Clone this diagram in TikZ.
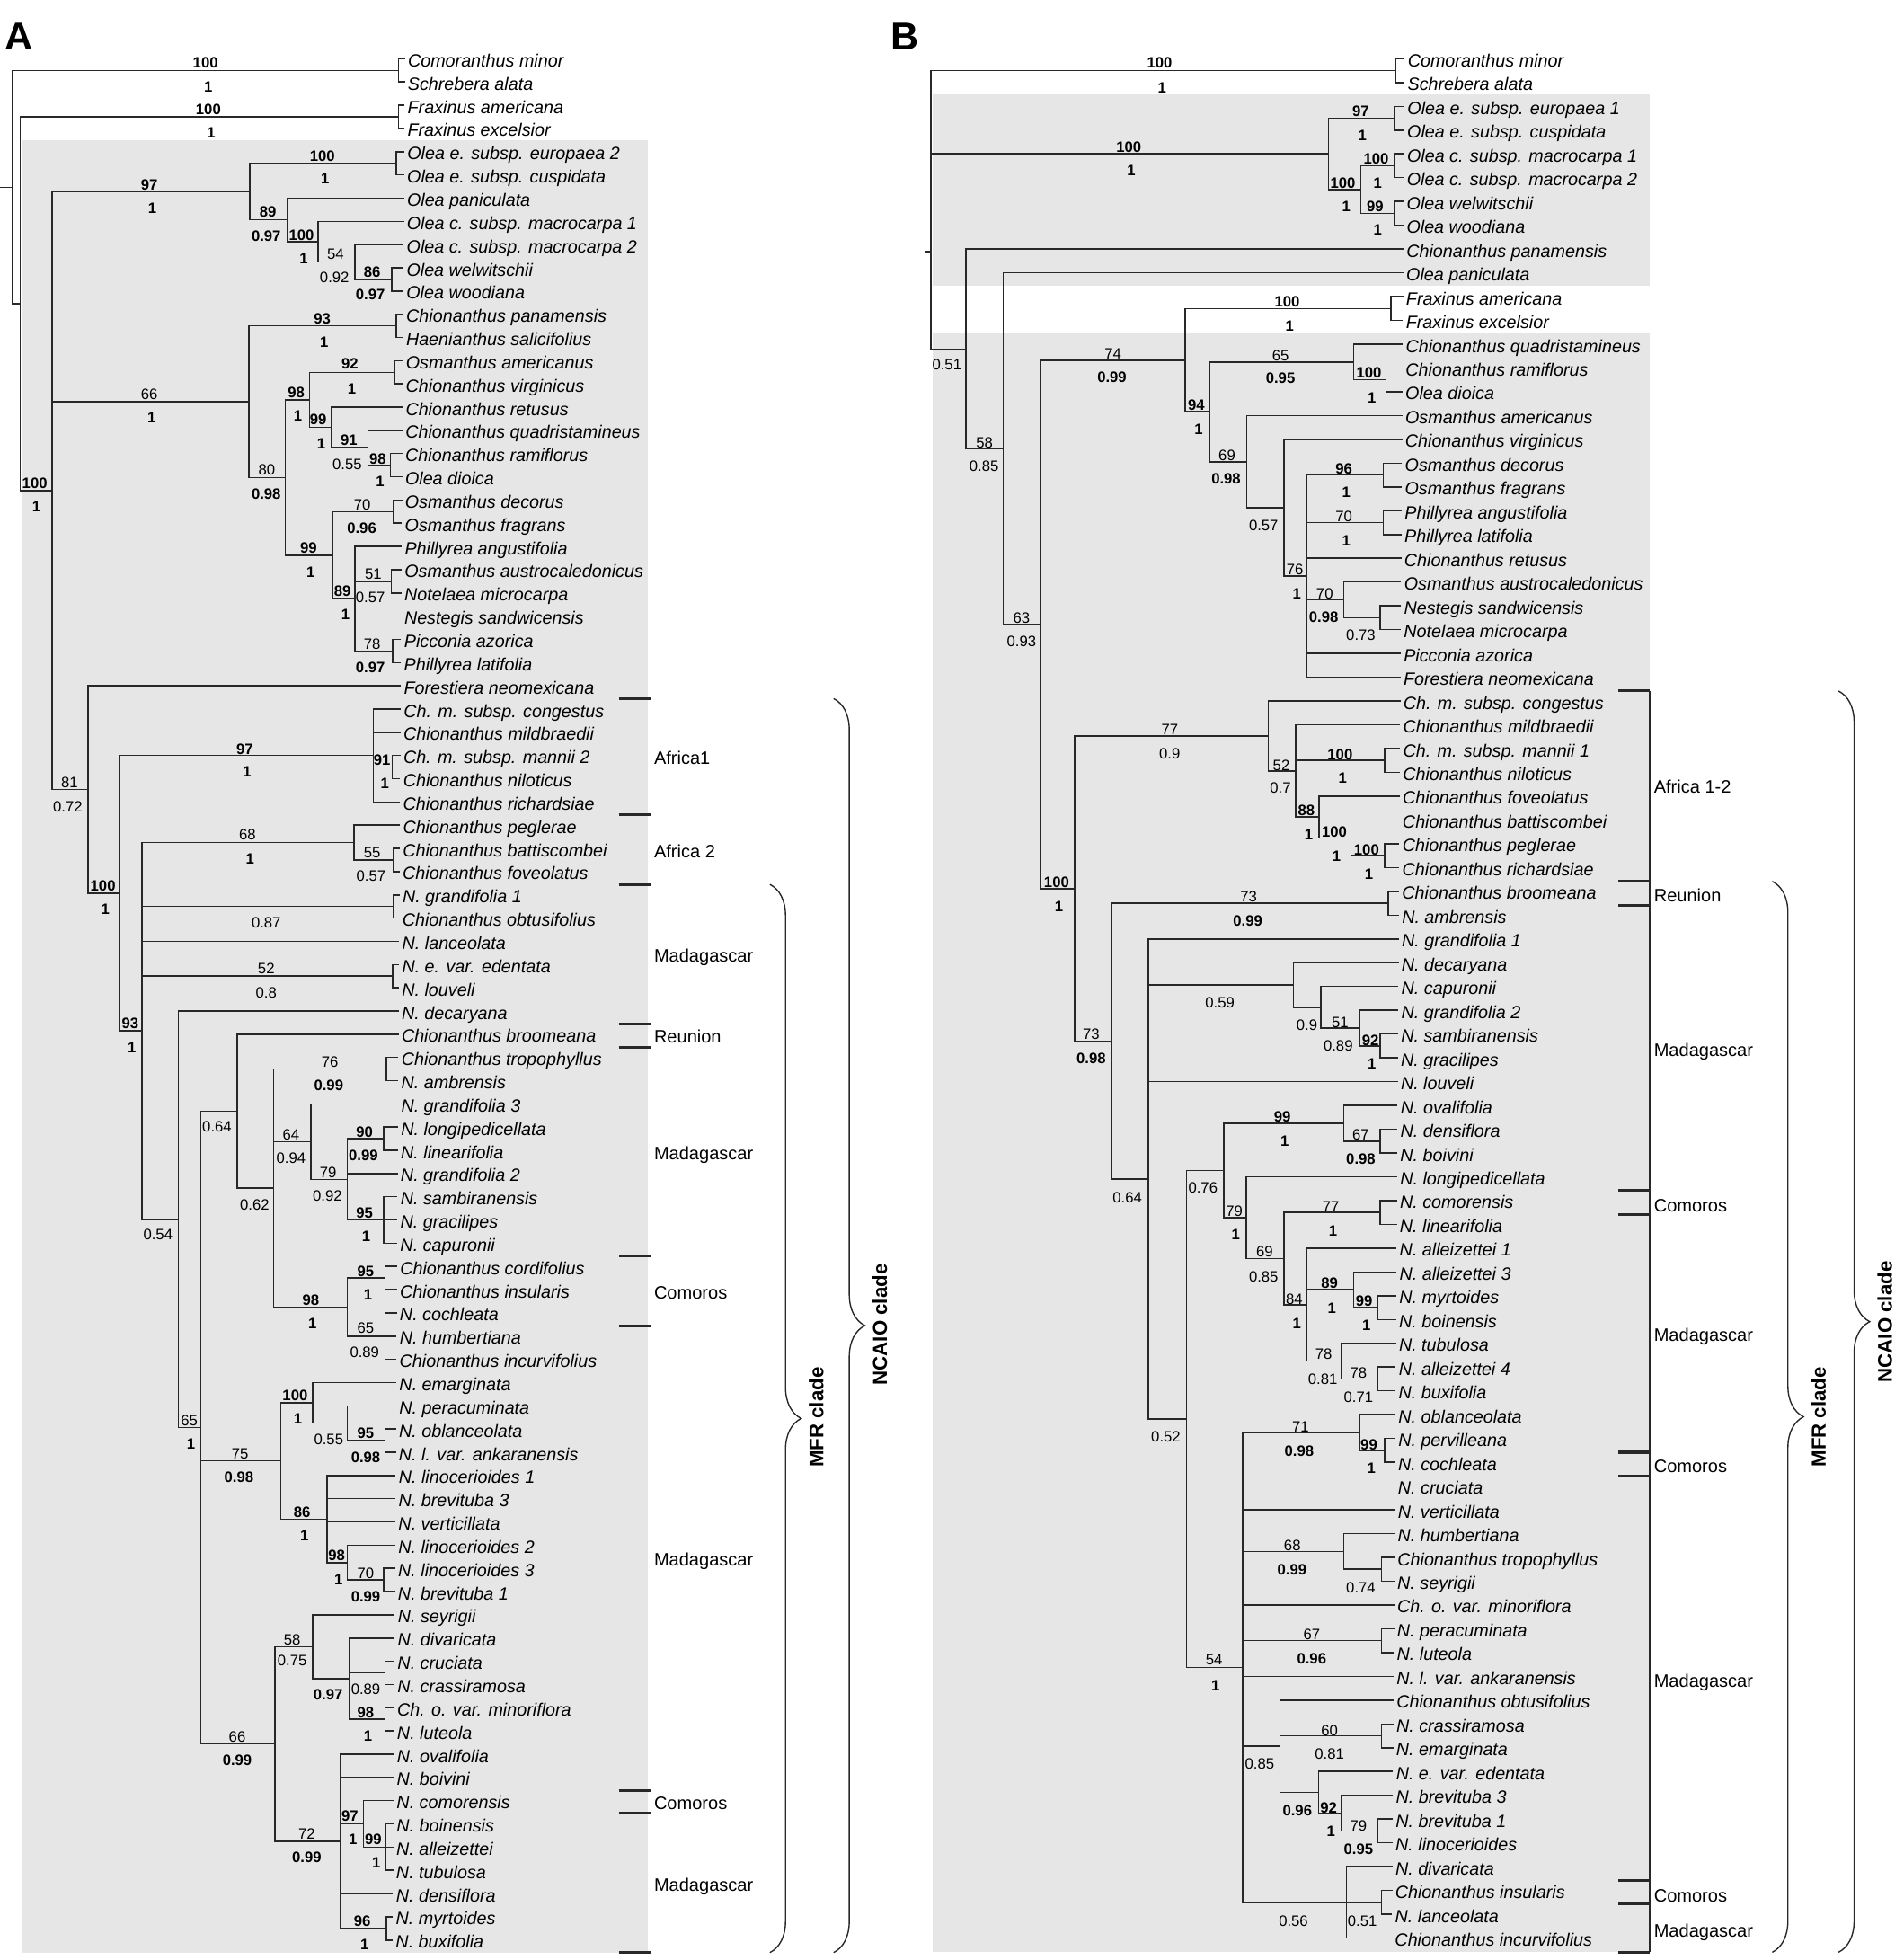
\documentclass[tikz,border=0pt]{standalone}
\usepackage{fontspec}
\setmainfont{Liberation Sans}
\usetikzlibrary{decorations.pathreplacing}
\definecolor{cladegray}{RGB}{230,230,230}
\definecolor{treeline}{RGB}{40,40,40}

\newcounter{valcount}
\newcommand\bv[3]{\stepcounter{valcount}\node[valb] (v\arabic{valcount}) at (#1,#2) {#3};}
\newcommand\rv[3]{\stepcounter{valcount}\node[valr] (v\arabic{valcount}) at (#1,#2) {#3};}
\newcommand\kids[2]{\foreach \kid in {#2} {\draw[branch] (#1) |- (\kid);}}

\begin{document}
\begin{tikzpicture}[x=0.5pt, y=-0.5pt,
  branch/.style={draw=treeline, line width=0.55pt},
  leaf/.style={anchor=west, inner xsep=1pt, inner ysep=0pt, text height=0.7em, text depth=0.05em,
               font=\fontsize{7.1}{8}\selectfont\itshape},
  valb/.style={inner sep=0pt, text height=0.72em, text depth=0pt, font=\fontsize{6}{7}\selectfont\bfseries},
  valr/.style={inner sep=0pt, text height=0.72em, text depth=0pt, font=\fontsize{6}{7}\selectfont},
  region/.style={anchor=west, inner sep=0pt, text height=0.72em, text depth=0pt, font=\fontsize{7.2}{8}\selectfont},
  regionline/.style={draw=treeline, line width=0.5pt},
  regiontick/.style={draw=treeline, line width=1.1pt},
  cladebrace/.style={draw=treeline, line width=0.5pt, decorate, decoration={brace, amplitude=12.5pt}},
  cladename/.style={rotate=90, inner sep=0pt, font=\fontsize{8}{9}\selectfont\bfseries},
  panel/.style={inner sep=0pt, font=\fontsize{15.5}{17}\selectfont\bfseries},
  shade/.style={fill=cladegray}
]
\fill[white] (0,0) rectangle (1523,1568);
\useasboundingbox (0,0) rectangle (1523,1568);

\node[panel] (labA) at (15,29) {A};
\node[panel] (labB) at (724,29) {B};

% ---------------- tree A
\begin{scope}[shift={(0,28.42)}, y=-9.29pt]
\fill[shade] (17,4.5) rectangle (518,82.55);

\foreach \t [count=\i] in {Comoranthus minor, Schrebera alata, Fraxinus americana, Fraxinus excelsior,
  Olea e. subsp. europaea 2, Olea e. subsp. cuspidata, Olea paniculata, Olea c. subsp. macrocarpa 1,
  Olea c. subsp. macrocarpa 2, Olea welwitschii, Olea woodiana, Chionanthus panamensis,
  Haenianthus salicifolius, Osmanthus americanus, Chionanthus virginicus, Chionanthus retusus,
  Chionanthus quadristamineus, Chionanthus ramiflorus, Olea dioica, Osmanthus decorus,
  Osmanthus fragrans, Phillyrea angustifolia, Osmanthus austrocaledonicus, Notelaea microcarpa,
  Nestegis sandwicensis, Picconia azorica, Phillyrea latifolia, Forestiera neomexicana,
  Ch. m. subsp. congestus, Chionanthus mildbraedii, Ch. m. subsp. mannii 2, Chionanthus niloticus,
  Chionanthus richardsiae, Chionanthus peglerae, Chionanthus battiscombei, Chionanthus foveolatus,
  N. grandifolia 1, Chionanthus obtusifolius, N. lanceolata, N. e. var. edentata, N. louveli,
  N. decaryana, Chionanthus broomeana, Chionanthus tropophyllus, N. ambrensis, N. grandifolia 3,
  N. longipedicellata, N. linearifolia, N. grandifolia 2, N. sambiranensis, N. gracilipes,
  N. capuronii, Chionanthus cordifolius, Chionanthus insularis, N. cochleata, N. humbertiana,
  Chionanthus incurvifolius, N. emarginata, N. peracuminata, N. oblanceolata,
  N. l. var. ankaranensis, N. linocerioides 1, N. brevituba 3, N. verticillata, N. linocerioides 2,
  N. linocerioides 3, N. brevituba 1, N. seyrigii, N. divaricata, N. cruciata, N. crassiramosa,
  Ch. o. var. minoriflora, N. luteola, N. ovalifolia, N. boivini, N. comorensis, N. boinensis,
  N. alleizettei, N. tubulosa, N. densiflora, N. myrtoides, N. buxifolia}
  {\node[leaf] (a\i) at ({324-0.12*(\i-1)},\i) {\t};}

\foreach \n/\x/\y in {Astub/0/6.53, Aroot/10.2/6.53, Acom/319/1.5, Aa2/16.2/11.55, Afrax/319/3.5,
  Aa3/41.7/19.6, Aolea/200/6.72, Aoe/317/5.5, A89/230/7.94, A100b/254.6/8.875, A54/284/9.75,
  A86/313.4/10.5, A66/199/15.77, A93/317/12.5, A80/228.2/19.03, A98/247.7/15.69, A92/316/14.5,
  A99/264.8/16.875, A91/294.4/17.75, A98b/312.5/18.5, A99b/266.2/22.375, A70/314.8/20.5,
  A89b/283.8/24.25, A51/313/23.5, A78/314/26.5, A81/70.4/32.47, A100c/95.8/36.93, A97/298.6/31,
  A91c/313.9/31.5, A93b/113.4/42.86, A68/283.3/34.75, A55/314.4/35.5, A87/314.8/37.5, A52/314/40.5,
  A54b/142.6/50.97, A65/160.6/59.94, A064/189.8/46.32, A062/219/49.625, A76/309.3/44.5,
  A64/248.6/47.625, A79/277.8/49.25, A90/307/47.5, A95/307/51, A98c/277.8/54.75, A95b/307.9/53.5,
  A65b/307.9/56, A75/224.5/61.375, A100d/250/58.875, A055/277.8/59.75, A95c/307.9/60.5,
  A86b/261.6/63.875, A98d/277.8/65.75, A70b/307/66.5, A66b/219.9/73.56, A58/250/69.375,
  A097/279.2/70.75, A089/307.9/70.5, A98e/307.9/72.5, A72/272.2/77.75, A97b/290.7/77,
  A99c/308.3/78, A96/309/81.5}
  {\coordinate (\n) at (\x,\y);}

\draw[branch] (Astub) -- (Aroot);
\kids{Aroot}{Acom,Aa2}
\kids{Acom}{a1,a2}
\kids{Aa2}{Afrax,Aa3}
\kids{Afrax}{a3,a4}
\kids{Aa3}{Aolea,A66,A81}
\kids{Aolea}{Aoe,A89}
\kids{Aoe}{a5,a6}
\kids{A89}{a7,A100b}
\kids{A100b}{a8,A54}
\kids{A54}{a9,A86}
\kids{A86}{a10,a11}
\kids{A66}{A93,A80}
\kids{A93}{a12,a13}
\kids{A80}{A98,A99b}
\kids{A98}{A92,A99}
\kids{A92}{a14,a15}
\kids{A99}{a16,A91}
\kids{A91}{a17,A98b}
\kids{A98b}{a18,a19}
\kids{A99b}{A70,A89b}
\kids{A70}{a20,a21}
\kids{A89b}{a22,A51,a25,A78}
\kids{A51}{a23,a24}
\kids{A78}{a26,a27}
\kids{A81}{a28,A100c}
\kids{A100c}{A97,A93b}
\kids{A97}{a29,a30,A91c,a33}
\kids{A91c}{a31,a32}
\kids{A93b}{A68,A87,a39,A52,A54b}
\kids{A68}{a34,A55}
\kids{A55}{a35,a36}
\kids{A87}{a37,a38}
\kids{A52}{a40,a41}
\kids{A54b}{a42,A65}
\kids{A65}{A064,A75,A66b}
\kids{A064}{a43,A062}
\kids{A062}{A76,A64,A98c}
\kids{A76}{a44,a45}
\kids{A64}{a46,A79}
\kids{A79}{A90,a49,A95}
\kids{A90}{a47,a48}
\kids{A95}{a50,a51,a52}
\kids{A98c}{A95b,A65b}
\kids{A95b}{a53,a54}
\kids{A65b}{a55,a56,a57}
\kids{A75}{A100d,A86b}
\kids{A100d}{a58,A055}
\kids{A055}{a59,A95c}
\kids{A95c}{a60,a61}
\kids{A86b}{a62,a63,a64,A98d}
\kids{A98d}{a65,A70b}
\kids{A70b}{a66,a67}
\kids{A66b}{A58,A72}
\kids{A58}{a68,A097}
\kids{A097}{a69,A089,A98e}
\kids{A089}{a70,a71}
\kids{A98e}{a72,a73}
\kids{A72}{a74,a75,A97b,a80,A96}
\kids{A97b}{a76,A99c}
\kids{A99c}{a77,a78,a79}
\kids{A96}{a81,a82}

\bv{164.4}{1.02}{100} \bv{166.7}{2.04}{1}
\bv{166.7}{3.02}{100} \bv{169}{4.04}{1}
\bv{257.9}{5.02}{100} \bv{260}{6.0}{1}
\bv{119.4}{6.25}{97} \bv{121.8}{7.26}{1}
\bv{214.4}{7.43}{89} \bv{213}{8.46}{0.97}
\bv{241.2}{8.43}{100} \bv{243}{9.43}{1}
\rv{268.5}{9.24}{54} \rv{267.6}{10.27}{0.92}
\bv{297.7}{10.01}{86} \bv{296.3}{11.0}{0.97}
\bv{257.9}{12.03}{93} \bv{259.3}{13.04}{1}
\bv{280}{13.97}{92} \bv{281.5}{15.04}{1}
\rv{119.4}{15.27}{66} \bv{121.3}{16.3}{1}
\bv{237}{15.2}{98} \bv{238.4}{16.2}{1}
\bv{254.6}{16.36}{99} \bv{257}{17.4}{1}
\bv{279.2}{17.27}{91} \rv{277.8}{18.3}{0.55}
\bv{302.3}{18.05}{98} \bv{304.2}{19.04}{1}
\rv{213.4}{18.55}{80} \bv{213}{19.57}{0.98}
\bv{27.8}{19.1}{100} \bv{29.2}{20.13}{1}
\rv{289.8}{20.03}{70} \bv{289.4}{21.04}{0.96}
\bv{246.8}{21.9}{99} \bv{248.6}{22.93}{1}
\rv{298.6}{23.04}{51} \rv{296.3}{24.03}{0.57}
\bv{274}{23.77}{89} \bv{276.4}{24.77}{1}
\rv{297.7}{26.03}{78} \bv{296.3}{27.03}{0.97}
\rv{55.6}{32.0}{81} \rv{54.2}{33.03}{0.72}
\bv{195.8}{30.56}{97} \bv{197.7}{31.55}{1}
\bv{305.6}{31.03}{91} \bv{307.9}{32.02}{1}
\rv{198}{34.25}{68} \bv{200}{35.28}{1}
\rv{297.7}{35.03}{55} \rv{296.8}{36.03}{0.57}
\bv{82.4}{36.45}{100} \bv{84.3}{37.47}{1}
\rv{213}{38.03}{0.87}
\rv{213}{40.0}{52} \rv{213}{41.05}{0.8}
\bv{104.2}{42.38}{93} \bv{105.6}{43.41}{1}
\rv{263.9}{44.05}{76} \bv{263}{45.05}{0.99}
\rv{173.6}{46.82}{0.64}
\rv{232.9}{47.15}{64} \rv{232.9}{48.18}{0.94}
\bv{291.7}{47.04}{90} \bv{290.7}{48.05}{0.99}
\rv{262.5}{48.79}{79} \rv{262}{49.81}{0.92}
\rv{203.7}{50.18}{0.62}
\bv{291.7}{50.53}{95} \bv{293}{51.53}{1}
\rv{126.4}{51.47}{0.54}
\bv{292.6}{53.04}{95} \bv{294.4}{54.05}{1}
\bv{248.6}{54.28}{98} \bv{250}{55.31}{1}
\rv{292.6}{55.5}{65} \rv{291.7}{56.52}{0.89}
\rv{151.4}{59.46}{65} \bv{152.8}{60.49}{1}
\bv{236.1}{58.4}{100} \bv{238.4}{59.4}{1}
\rv{263}{60.3}{0.55}
\bv{292.6}{60.02}{95} \bv{292.6}{61.04}{0.98}
\rv{192.1}{60.92}{75} \bv{191.2}{61.92}{0.98}
\bv{241.7}{63.4}{86} \bv{243.5}{64.42}{1}
\bv{269.4}{65.29}{98} \bv{270.8}{66.3}{1}
\rv{292.6}{66.04}{70} \bv{292.6}{67.07}{0.99}
\rv{233.8}{68.9}{58} \rv{233.8}{69.8}{0.75}
\bv{262.5}{71.27}{0.97}
\rv{292.6}{71.04}{0.89}
\bv{292.6}{72.03}{98} \bv{294.4}{73.07}{1}
\rv{189.8}{73.1}{66} \bv{189.8}{74.09}{0.99}
\bv{280}{76.5}{97} \bv{282.4}{77.5}{1}
\bv{298.6}{77.5}{99} \bv{301}{78.52}{1}
\rv{245.4}{77.28}{72} \bv{245.4}{78.29}{0.99}
\bv{289.8}{81.02}{96} \bv{291.7}{82.03}{1}

\draw[regionline] (521,28.55) -- (521,82.55);
\foreach \t in {28.55,33.55,36.55,42.55,43.55,52.55,55.55,75.55,76.55,82.55}
  \draw[regiontick] (495,\t) -- (521,\t);
\node[region] (rA1) at (523,31) {Africa1};
\node[region] (rA2) at (523,35) {Africa 2};
\node[region] (rA3) at (523,39.5) {Madagascar};
\node[region] (rA4) at (523,43) {Reunion};
\node[region] (rA5) at (523,48) {Madagascar};
\node[region] (rA6) at (523,54) {Comoros};
\node[region] (rA7) at (523,65.5) {Madagascar};
\node[region] (rA8) at (523,76) {Comoros};
\node[region] (rA9) at (523,79.5) {Madagascar};

\coordinate (AmfrT) at (616,36.55);
\coordinate (AmfrB) at (616,82.54);
\coordinate (AncaT) at (667,28.55);
\coordinate (AncaB) at (667,82.54);
\draw[cladebrace] (AmfrT) -- (AmfrB);
\draw[cladebrace] (AncaT) -- (AncaB);
\node[cladename] (AmfrL) at (653,59.5) {MFR clade};
\node[cladename] (AncaL) at (704,55.5) {NCAIO clade};
\end{scope}

% ---------------- tree B
\begin{scope}[shift={(0,27.97)}, y=-9.515pt]
\fill[shade] (746,2.5) rectangle (1320,10.55);
\fill[shade] (746,12.55) rectangle (1320,80.6);

\foreach \t [count=\i] in {Comoranthus minor, Schrebera alata, Olea e. subsp. europaea 1,
  Olea e. subsp. cuspidata, Olea c. subsp. macrocarpa 1, Olea c. subsp. macrocarpa 2,
  Olea welwitschii, Olea woodiana, Chionanthus panamensis, Olea paniculata, Fraxinus americana,
  Fraxinus excelsior, Chionanthus quadristamineus, Chionanthus ramiflorus, Olea dioica,
  Osmanthus americanus, Chionanthus virginicus, Osmanthus decorus, Osmanthus fragrans,
  Phillyrea angustifolia, Phillyrea latifolia, Chionanthus retusus, Osmanthus austrocaledonicus,
  Nestegis sandwicensis, Notelaea microcarpa, Picconia azorica, Forestiera neomexicana,
  Ch. m. subsp. congestus, Chionanthus mildbraedii, Ch. m. subsp. mannii 1, Chionanthus niloticus,
  Chionanthus foveolatus, Chionanthus battiscombei, Chionanthus peglerae, Chionanthus richardsiae,
  Chionanthus broomeana, N. ambrensis, N. grandifolia 1, N. decaryana, N. capuronii,
  N. grandifolia 2, N. sambiranensis, N. gracilipes, N. louveli, N. ovalifolia, N. densiflora,
  N. boivini, N. longipedicellata, N. comorensis, N. linearifolia, N. alleizettei 1,
  N. alleizettei 3, N. myrtoides, N. boinensis, N. tubulosa, N. alleizettei 4, N. buxifolia,
  N. oblanceolata, N. pervilleana, N. cochleata, N. cruciata, N. verticillata, N. humbertiana,
  Chionanthus tropophyllus, N. seyrigii, Ch. o. var. minoriflora, N. peracuminata, N. luteola,
  N. l. var. ankaranensis, Chionanthus obtusifolius, N. crassiramosa, N. emarginata,
  N. e. var. edentata, N. brevituba 3, N. brevituba 1, N. linocerioides, N. divaricata,
  Chionanthus insularis, N. lanceolata, Chionanthus incurvifolius}
  {\node[leaf] (b\i) at ({1124-0.13*(\i-1)},\i) {\t};}

\foreach \n/\x/\y in {Bstub/740.3/9.1, Broot/744.9/9.1, Bcom/1117/1.5, Bolea/1063/5.0,
  Boe/1115.7/3.5, B100a/1088.8/6.5, Bmac/1115.7/5.5, Bwel/1115.7/7.5, Bb2/773/13.2,
  Bb3/802.7/17.39, Bb4/832.7/24.78, Bb5/948.2/13.67, Bfrax/1113/11.5, B94/967.5/15.84,
  B65/1083/13.75, Bram/1108.8/14.5, B69/997.5/17.94, B057/1027.2/19.875, B76/1045.6/22.75,
  B96/1106.9/18.5, B70a/1106.9/20.5, B070/1075.3/23.75, B073/1104.2/24.5, Bb6/859.7/35.885,
  B77/1014.9/29.47, B52/1036.8/30.94, B100e/1108/30.5, B88/1055.3/32.875, B100f/1081/33.75,
  B100g/1108/34.5, B73/889.3/42.3, Breu/1110.7/36.5, B064/918.6/48.09, B059/1034.9/39.94,
  B09/1056.8/40.875, B51/1088/41.75, B92/1104.2/42.5, B052/949.4/58.18, B076/979/47.73,
  B99/1075.3/45.75, B067/1104.2/46.5, B79/997.1/49.72, B069/1027.2/51.44, B77b/1104.2/49.5,
  B84/1045.3/53.375, B89/1083/52.75, B99b/1102.3/53.5, B078/1073.4/55.75, B78b/1102.3/56.5,
  B54/994.4/68.625, B71/1087.6/58.75, B99c/1108/59.5, B68/1075.3/63.75, B074/1105.3/64.5,
  B67/1105.3/67.5, B085/1024.1/71.94, B60/1105.3/71.5, B096/1054.9/73.875, B92b/1073.4/74.75,
  B79b/1102.3/75.5, B056/1077.2/78.5, B051/1105.3/78.5}
  {\coordinate (\n) at (\x,\y);}

\draw[branch] (Bstub) -- (Broot);
\kids{Broot}{Bcom,Bolea,Bb2}
\kids{Bcom}{b1,b2}
\kids{Bolea}{Boe,B100a}
\kids{Boe}{b3,b4}
\kids{B100a}{Bmac,Bwel}
\kids{Bmac}{b5,b6}
\kids{Bwel}{b7,b8}
\kids{Bb2}{b9,Bb3}
\kids{Bb3}{b10,Bb4}
\kids{Bb4}{Bb5,Bb6}
\kids{Bb5}{Bfrax,B94}
\kids{Bfrax}{b11,b12}
\kids{B94}{B65,B69}
\kids{B65}{b13,Bram}
\kids{Bram}{b14,b15}
\kids{B69}{b16,B057}
\kids{B057}{b17,B76}
\kids{B76}{B96,B70a,b22,B070,b26,b27}
\kids{B96}{b18,b19}
\kids{B70a}{b20,b21}
\kids{B070}{b23,B073}
\kids{B073}{b24,b25}
\kids{Bb6}{B77,B73}
\kids{B77}{b28,B52}
\kids{B52}{b29,B100e,B88}
\kids{B100e}{b30,b31}
\kids{B88}{b32,B100f}
\kids{B100f}{b33,B100g}
\kids{B100g}{b34,b35}
\kids{B73}{Breu,B064}
\kids{Breu}{b36,b37}
\kids{B064}{b38,B059,b44,B052}
\kids{B059}{b39,B09}
\kids{B09}{b40,B51}
\kids{B51}{b41,B92}
\kids{B92}{b42,b43}
\kids{B052}{B076,B54}
\kids{B076}{B99,B79}
\kids{B99}{b45,B067}
\kids{B067}{b46,b47}
\kids{B79}{b48,B069}
\kids{B069}{B77b,B84}
\kids{B77b}{b49,b50}
\kids{B84}{b51,B89,B078}
\kids{B89}{b52,B99b}
\kids{B99b}{b53,b54}
\kids{B078}{b55,B78b}
\kids{B78b}{b56,b57}
\kids{B54}{B71,b61,b62,B68,b66,B67,b69,B085,B056}
\kids{B71}{b58,B99c}
\kids{B99c}{b59,b60}
\kids{B68}{b63,B074}
\kids{B074}{b64,b65}
\kids{B67}{b67,b68}
\kids{B085}{b70,B60,B096}
\kids{B60}{b71,b72}
\kids{B096}{b73,B92b}
\kids{B92b}{b74,B79b}
\kids{B79b}{b75,b76}
\kids{B056}{b77,B051,b80}
\kids{B051}{b78,b79}

\bv{927.8}{1.02}{100} \bv{929.8}{2.06}{1}
\bv{1088.8}{3.06}{97} \bv{1090}{4.07}{1}
\bv{1101}{5.05}{100} \bv{1102.3}{6.06}{1}
\bv{1100.3}{7.05}{99} \bv{1102.3}{8.04}{1}
\bv{1074.5}{6.06}{100} \bv{1077.2}{7.06}{1}
\bv{903.2}{4.55}{100} \bv{905.1}{5.55}{1}
\bv{1029.9}{11.06}{100} \bv{1031.8}{12.07}{1}
\rv{1024.5}{13.32}{65} \bv{1024.5}{14.27}{0.95}
\bv{1095.3}{14.04}{100} \bv{1097.6}{15.08}{1}
\bv{1075.3}{18.07}{96} \bv{1077.2}{19.08}{1}
\rv{1075.3}{20.09}{70} \bv{1077.2}{21.09}{1}
\rv{1059.9}{23.33}{70} \bv{1059.1}{24.32}{0.98}
\rv{1088.8}{25.07}{0.73}
\rv{1036}{22.3}{76} \bv{1037.6}{23.33}{1}
\rv{1011}{20.46}{0.57}
\rv{981.7}{17.5}{69} \bv{981}{18.48}{0.98}
\bv{957.1}{15.4}{94} \bv{959}{16.41}{1}
\rv{890.5}{13.23}{74} \bv{889.7}{14.23}{0.99}
\rv{935.9}{29.04}{77} \rv{935.9}{30.04}{0.9}
\rv{1025.2}{30.53}{52} \rv{1024.5}{31.51}{0.7}
\bv{1072.2}{30.09}{100} \bv{1074.2}{31.08}{1}
\bv{1045.3}{32.43}{88} \bv{1047.2}{33.44}{1}
\bv{1067.6}{33.34}{100} \bv{1069.5}{34.35}{1}
\bv{1093.4}{34.1}{100} \bv{1095.3}{35.1}{1}
\bv{845.4}{35.45}{100} \bv{847.3}{36.49}{1}
\rv{999}{36.07}{73} \bv{998.3}{37.08}{0.99}
\rv{976}{40.52}{0.59}
\rv{1045.7}{41.46}{0.9}
\rv{1072.2}{41.34}{51} \rv{1070.7}{42.35}{0.89}
\bv{1096.5}{42.09}{92} \bv{1097.6}{43.1}{1}
\bv{1026}{45.32}{99} \bv{1027.9}{46.34}{1}
\rv{1088.8}{46.08}{67} \bv{1088.8}{47.09}{0.98}
\rv{962.5}{48.32}{0.76}
\rv{987.5}{49.29}{79} \bv{988.7}{50.27}{1}
\rv{1064.9}{49.1}{77} \bv{1066.5}{50.11}{1}
\rv{1011.8}{51.0}{69} \rv{1011}{52.04}{0.85}
\rv{1035.6}{52.98}{84} \bv{1037.6}{53.99}{1}
\bv{1063.8}{52.32}{89} \bv{1065.7}{53.36}{1}
\bv{1091.5}{53.07}{99} \bv{1093.4}{54.09}{1}
\rv{1059.1}{55.31}{78} \rv{1058.4}{56.34}{0.81}
\rv{1086.9}{56.09}{78} \rv{1086.9}{57.1}{0.71}
\rv{932.8}{58.77}{0.52}
\rv{1040.6}{58.36}{71} \bv{1039.5}{59.37}{0.98}
\bv{1095.3}{59.09}{99} \bv{1097.3}{60.1}{1}
\rv{1034}{63.34}{68} \bv{1033.7}{64.35}{0.99}
\rv{1088.8}{65.1}{0.74}
\rv{1049.5}{67.08}{67} \bv{1049.5}{68.09}{0.96}
\rv{1063.8}{71.11}{60} \rv{1063.8}{72.12}{0.81}
\rv{1007.9}{72.53}{0.85}
\bv{1038}{74.47}{0.96}
\bv{1063}{74.36}{92} \bv{1064.9}{75.37}{1}
\rv{1086.9}{75.11}{79} \bv{1086.9}{76.11}{0.95}
\rv{1034.9}{79.13}{0.56}
\rv{1090}{79.13}{0.51}
\rv{971.3}{68.15}{54} \bv{972.5}{69.25}{1}
\rv{873.1}{41.84}{73} \bv{873.1}{42.85}{0.98}
\rv{902}{48.7}{0.64}
\rv{817.3}{24.34}{63} \rv{817.3}{25.35}{0.93}
\rv{787.7}{16.97}{58} \rv{787.3}{17.96}{0.85}
\rv{757.6}{13.7}{0.51}

\draw[regionline] (1320,27.58) -- (1320,80.6);
\foreach \t in {27.58,35.58,36.58,48.58,49.58,59.58,60.58,77.58,78.58,80.6}
  \draw[regiontick] (1295,\t) -- (1320,\t);
\node[region] (rB1) at (1323,31.5) {Africa 1-2};
\node[region] (rB2) at (1323,36.05) {Reunion};
\node[region] (rB3) at (1323,42.55) {Madagascar};
\node[region] (rB4) at (1323,49.08) {Comoros};
\node[region] (rB5) at (1323,54.55) {Madagascar};
\node[region] (rB6) at (1323,60.06) {Comoros};
\node[region] (rB7) at (1323,69.1) {Madagascar};
\node[region] (rB8) at (1323,78.1) {Comoros};
\node[region] (rB9) at (1323,79.6) {Madagascar};

\coordinate (BmfrT) at (1418,35.58);
\coordinate (BmfrB) at (1418,80.6);
\coordinate (BncaT) at (1471,27.58);
\coordinate (BncaB) at (1471,80.6);
\draw[cladebrace] (BmfrT) -- (BmfrB);
\draw[cladebrace] (BncaT) -- (BncaB);
\node[cladename] (BmfrL) at (1455,58.1) {MFR clade};
\node[cladename] (BncaL) at (1508,54.1) {NCAIO clade};
\end{scope}
\end{tikzpicture}
\end{document}
